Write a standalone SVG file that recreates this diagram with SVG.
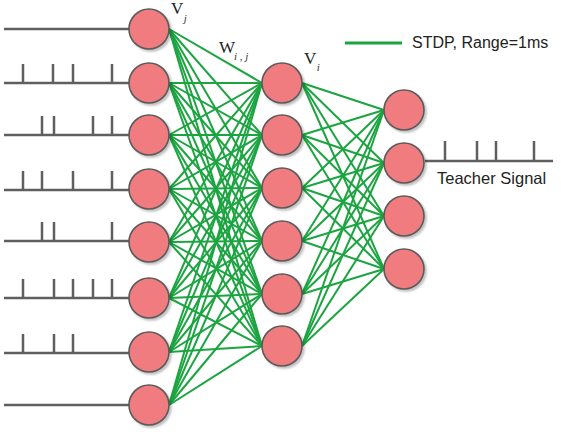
<svg xmlns="http://www.w3.org/2000/svg" width="561" height="432" viewBox="0 0 561 432">
<defs>
<filter id="sh" x="-20%" y="-20%" width="150%" height="150%">
<feGaussianBlur in="SourceAlpha" stdDeviation="1.2"/>
<feOffset dx="1.5" dy="2" result="o"/>
<feComponentTransfer><feFuncA type="linear" slope="0.25"/></feComponentTransfer>
<feMerge><feMergeNode/><feMergeNode in="SourceGraphic"/></feMerge>
</filter>
</defs>
<style>
.n{fill:#F07C80;stroke:#5a5a5a;stroke-width:1.6;filter:url(#sh)}
.c line{stroke:#1CA441;stroke-width:2}
.sp{stroke:#5f5f5f;stroke-width:2.5;fill:none}
.t{font-family:"Liberation Sans",Arial,sans-serif;font-size:16px;fill:#222}
.v{font-family:"Liberation Serif","Times New Roman",serif;font-size:17px;fill:#222}
.s{font-size:11px;font-style:italic;fill:#333}
</style>
<rect width="561" height="432" fill="#fff"/>
<g id="spikes">
<path class="sp" d="M4 29H130"/>
<path class="sp" d="M4 83H130M23 83V64M53 83V64M73 83V64M112 83V64"/>
<path class="sp" d="M4 135H130M42 135V116M54 135V116M93 135V116M112 135V116"/>
<path class="sp" d="M4 190H130M23 190V171M42 190V171M73 190V171M112 190V171"/>
<path class="sp" d="M4 241H130M42 241V222M54 241V222M112 241V222"/>
<path class="sp" d="M4 298H130M23 298V279M54 298V279M73 298V279M93 298V279M112 298V279"/>
<path class="sp" d="M4 353H130M23 353V334M54 353V334M73 353V334"/>
<path class="sp" d="M4 405H130"/>
<path class="sp" d="M425 161H553M445 161V141M477 161V141M496 161V141M534 161V141"/>
</g>
<g id="connectors" class="c">
<line x1="169" y1="29" x2="262" y2="83"/><line x1="169" y1="29" x2="262" y2="135"/><line x1="169" y1="29" x2="262" y2="188"/><line x1="169" y1="29" x2="262" y2="241"/><line x1="169" y1="29" x2="262" y2="294"/><line x1="169" y1="29" x2="262" y2="346"/>
<line x1="169" y1="83" x2="262" y2="83"/><line x1="169" y1="83" x2="262" y2="135"/><line x1="169" y1="83" x2="262" y2="188"/><line x1="169" y1="83" x2="262" y2="241"/><line x1="169" y1="83" x2="262" y2="294"/><line x1="169" y1="83" x2="262" y2="346"/>
<line x1="169" y1="135" x2="262" y2="83"/><line x1="169" y1="135" x2="262" y2="135"/><line x1="169" y1="135" x2="262" y2="188"/><line x1="169" y1="135" x2="262" y2="241"/><line x1="169" y1="135" x2="262" y2="294"/><line x1="169" y1="135" x2="262" y2="346"/>
<line x1="169" y1="189" x2="262" y2="83"/><line x1="169" y1="189" x2="262" y2="135"/><line x1="169" y1="189" x2="262" y2="188"/><line x1="169" y1="189" x2="262" y2="241"/><line x1="169" y1="189" x2="262" y2="294"/><line x1="169" y1="189" x2="262" y2="346"/>
<line x1="169" y1="242" x2="262" y2="83"/><line x1="169" y1="242" x2="262" y2="135"/><line x1="169" y1="242" x2="262" y2="188"/><line x1="169" y1="242" x2="262" y2="241"/><line x1="169" y1="242" x2="262" y2="294"/><line x1="169" y1="242" x2="262" y2="346"/>
<line x1="169" y1="298" x2="262" y2="83"/><line x1="169" y1="298" x2="262" y2="135"/><line x1="169" y1="298" x2="262" y2="188"/><line x1="169" y1="298" x2="262" y2="241"/><line x1="169" y1="298" x2="262" y2="294"/><line x1="169" y1="298" x2="262" y2="346"/>
<line x1="169" y1="352" x2="262" y2="83"/><line x1="169" y1="352" x2="262" y2="135"/><line x1="169" y1="352" x2="262" y2="188"/><line x1="169" y1="352" x2="262" y2="241"/><line x1="169" y1="352" x2="262" y2="294"/><line x1="169" y1="352" x2="262" y2="346"/>
<line x1="169" y1="405" x2="262" y2="83"/><line x1="169" y1="405" x2="262" y2="135"/><line x1="169" y1="405" x2="262" y2="188"/><line x1="169" y1="405" x2="262" y2="241"/><line x1="169" y1="405" x2="262" y2="294"/><line x1="169" y1="405" x2="262" y2="346"/>
<line x1="302" y1="83" x2="384" y2="110"/><line x1="302" y1="83" x2="384" y2="163"/><line x1="302" y1="83" x2="384" y2="216"/><line x1="302" y1="83" x2="384" y2="269"/>
<line x1="302" y1="135" x2="384" y2="110"/><line x1="302" y1="135" x2="384" y2="163"/><line x1="302" y1="135" x2="384" y2="216"/><line x1="302" y1="135" x2="384" y2="269"/>
<line x1="302" y1="188" x2="384" y2="110"/><line x1="302" y1="188" x2="384" y2="163"/><line x1="302" y1="188" x2="384" y2="216"/><line x1="302" y1="188" x2="384" y2="269"/>
<line x1="302" y1="241" x2="384" y2="110"/><line x1="302" y1="241" x2="384" y2="163"/><line x1="302" y1="241" x2="384" y2="216"/><line x1="302" y1="241" x2="384" y2="269"/>
<line x1="302" y1="294" x2="384" y2="110"/><line x1="302" y1="294" x2="384" y2="163"/><line x1="302" y1="294" x2="384" y2="216"/><line x1="302" y1="294" x2="384" y2="269"/>
<line x1="302" y1="346" x2="384" y2="110"/><line x1="302" y1="346" x2="384" y2="163"/><line x1="302" y1="346" x2="384" y2="216"/><line x1="302" y1="346" x2="384" y2="269"/>
</g>
<g id="in1"><circle class="n" cx="149" cy="29" r="20"/></g>
<g id="in2"><circle class="n" cx="149" cy="83" r="20"/></g>
<g id="in3"><circle class="n" cx="149" cy="135" r="20"/></g>
<g id="in4"><circle class="n" cx="149" cy="189" r="20"/></g>
<g id="in5"><circle class="n" cx="149" cy="242" r="20"/></g>
<g id="in6"><circle class="n" cx="149" cy="298" r="20"/></g>
<g id="in7"><circle class="n" cx="149" cy="352" r="20"/></g>
<g id="in8"><circle class="n" cx="149" cy="405" r="20"/></g>
<g id="h1"><circle class="n" cx="282" cy="83" r="20"/></g>
<g id="h2"><circle class="n" cx="282" cy="135" r="20"/></g>
<g id="h3"><circle class="n" cx="282" cy="188" r="20"/></g>
<g id="h4"><circle class="n" cx="282" cy="241" r="20"/></g>
<g id="h5"><circle class="n" cx="282" cy="294" r="20"/></g>
<g id="h6"><circle class="n" cx="282" cy="346" r="20"/></g>
<g id="o1"><circle class="n" cx="404" cy="110" r="20"/></g>
<g id="o2"><circle class="n" cx="404" cy="163" r="20"/></g>
<g id="o3"><circle class="n" cx="404" cy="216" r="20"/></g>
<g id="o4"><circle class="n" cx="404" cy="269" r="20"/></g>
<g id="labels">
<text class="v" x="171" y="14">V<tspan class="s" dx="0.5" dy="8">j</tspan></text>
<text class="v" x="219" y="53">W<tspan class="s" dx="-1" dy="7">i , j</tspan></text>
<text class="v" x="304" y="64">V<tspan class="s" dx="0.5" dy="7">i</tspan></text>
<text class="t" x="437" y="184" style="font-size:16.5px">Teacher Signal</text>
</g>
<g id="legend">
<line x1="345" y1="43" x2="402" y2="43" stroke="#1CA441" stroke-width="3"/>
<text class="t" x="412" y="48">STDP, Range=1ms</text>
</g>
</svg>
